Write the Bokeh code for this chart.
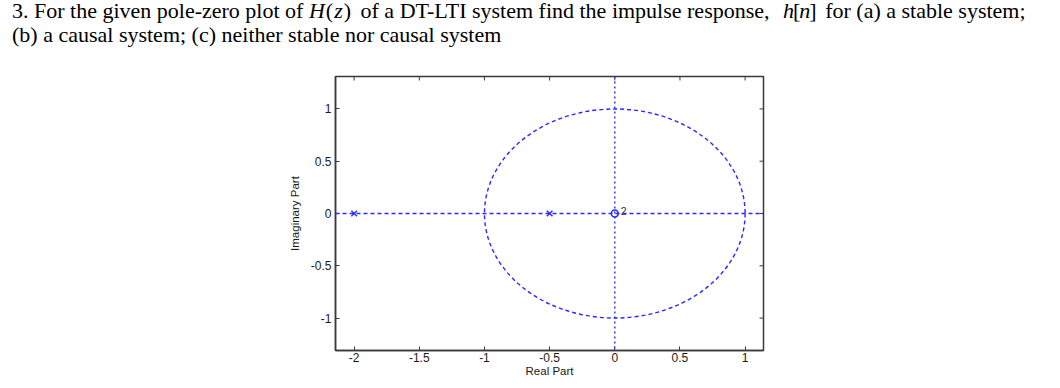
import math
from bokeh.plotting import figure
from bokeh.models import Range1d, FixedTicker, Span, Div
from bokeh.layouts import column
from bokeh.core.properties import value
from bokeh.embed import file_html
from bokeh.resources import INLINE

# ---------------- data ----------------
title_line1 = ["3. For the given pole-zero plot of", "H(z)",
               "of a DT-LTI system find the impulse response,", "h[n]",
               "for (a) a stable system;"]
title_line2 = "(b) a causal system; (c) neither stable nor causal system"

pole_re = [-2.0, -0.5]
pole_im = [0.0, 0.0]
zero_re = [0.0]
zero_im = [0.0]
zero_mult = ["2"]
unit_radius = 1.0

x_ticks = [-2, -1.5, -1, -0.5, 0, 0.5, 1]
x_tick_labels = ["-2", "-1.5", "-1", "-0.5", "0", "0.5", "1"]
y_ticks = [-1, -0.5, 0, 0.5, 1]
y_tick_labels = ["-1", "-0.5", "0", "0.5", "1"]
x_label = "Real Part"
y_label = "Imaginary Part"

# ---------------- styles / layout ----------------
X_RANGE = (-2.143, 1.141)
Y_RANGE = (-1.31, 1.31)
BLUE = "#2a2aff"
AX = "#3a3a3a"
TXT = "#1a1a1a"
SANS = "Liberation Sans"


def math_html(s):
    # italic letters, upright brackets (like an equation font)
    out = ""
    for ch in s:
        out += ch if ch in "()[]" else "<i>%s</i>" % ch
    return out


seg_styles = ["", "letter-spacing:1px;padding-right:3px;", "",
              "padding-left:8px;letter-spacing:-1px;padding-right:4px;", ""]
parts = []
for i, (s, st) in enumerate(zip(title_line1, seg_styles)):
    txt = math_html(s) if i in (1, 3) else s
    parts.append('<span style="%s">%s</span>' % (st, txt))
html = ('<div style="position:relative;top:-6px;padding-left:7px;white-space:nowrap;'
        'font-family:\'Liberation Serif\',serif;font-size:22px;line-height:24.3px;color:black;">'
        + " ".join(parts) + "<br>" + title_line2 + "</div>")
d = Div(text=html, width=1044, height=58, styles={"overflow": "visible"})

# ---------------- pole-zero plot ----------------
p = figure(width=773, height=312,
           x_range=Range1d(*X_RANGE), y_range=Range1d(*Y_RANGE),
           output_backend="svg", toolbar_location=None,
           min_border_left=335, min_border_right=10, min_border_top=8, min_border_bottom=30,
           outline_line_color=AX, outline_line_width=1.5)
p.xgrid.visible = False
p.ygrid.visible = False

xb = p.xaxis[0]
yl = p.yaxis[0]
for ax, ticks, labels in ((xb, x_ticks, x_tick_labels), (yl, y_ticks, y_tick_labels)):
    ax.ticker = FixedTicker(ticks=ticks)
    ax.major_label_overrides = dict(zip(ticks, labels))
    ax.minor_tick_line_color = None
    ax.major_tick_in = 4
    ax.major_tick_out = 0
    ax.major_tick_line_color = AX
    ax.axis_line_color = AX
    ax.axis_line_width = 1.5
    ax.major_label_text_font = SANS
    ax.major_label_text_font_size = "12px"
    ax.major_label_text_color = TXT
    ax.axis_label_text_font = SANS
    ax.axis_label_text_font_size = "11.5px"
    ax.axis_label_text_font_style = "normal"
    ax.axis_label_text_color = TXT
xb.major_label_standoff = 2
xb.axis_label = x_label
xb.axis_label_standoff = 0
yl.major_label_standoff = 4
yl.axis_label = y_label
yl.axis_label_standoff = 7

# inward ticks on the top and right edges of the box
p.scatter(x=x_ticks, y=[Y_RANGE[1]] * len(x_ticks), marker="dash", angle=math.pi / 2,
          size=8, line_color=AX, line_width=1)
p.scatter(x=[X_RANGE[1]] * len(y_ticks), y=y_ticks, marker="dash",
          size=8, line_color=AX, line_width=1)

# real and imaginary axes
p.add_layout(Span(location=0, dimension="width", line_color=BLUE, line_width=1.4, line_dash="4 3"))
p.add_layout(Span(location=0, dimension="height", line_color=BLUE, line_width=1.4, line_dash="2 3"))

# unit circle
p.ellipse(x=[0], y=[0], width=[2 * unit_radius], height=[2 * unit_radius],
          fill_color=None, line_color=BLUE, line_width=1.4, line_dash="4 3")

# poles and zeros
p.scatter(pole_re, pole_im, marker="x", size=8, line_color=BLUE, line_width=1.4)
p.scatter(zero_re, zero_im, marker="circle", size=7, fill_color=None,
          line_color=BLUE, line_width=1.5)
p.text(zero_re, zero_im, text=zero_mult, x_offset=6, y_offset=-3,
       text_font=value(SANS), text_font_size="10.5px", text_color="#333333",
       text_baseline="alphabetic", text_align="left")

layout = column(d, p)
open("out.html", "w").write(file_html(layout, INLINE))
